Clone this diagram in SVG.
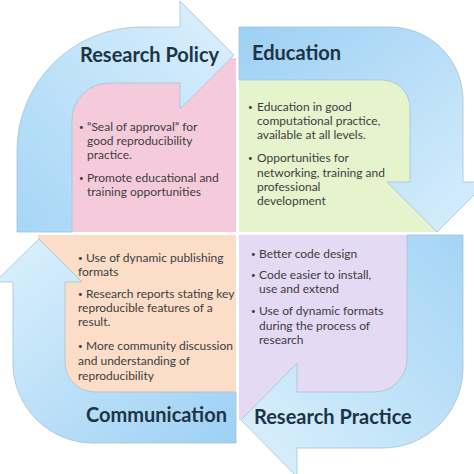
<svg xmlns="http://www.w3.org/2000/svg" width="474" height="474" viewBox="0 0 474 474">
<defs>
<style>
.arrow{stroke:#a3c3d8;stroke-width:0.8;stroke-linejoin:miter}
.head{font-family:Lato,"Liberation Sans",sans-serif;font-weight:bold;font-size:20px;fill:#1e3446}
.body{font-family:Lato,"Liberation Sans",sans-serif;font-size:12px;fill:#3d3d3d}
.b{font-size:8px}
</style>
<linearGradient id="gRP" x1="0" y1="1" x2="1" y2="0"><stop offset="0" stop-color="#a6d6f6"/><stop offset="1" stop-color="#dcf0fc"/></linearGradient>
<linearGradient id="gED" x1="0" y1="0" x2="1" y2="1"><stop offset="0" stop-color="#9dd0f4"/><stop offset="1" stop-color="#d9effc"/></linearGradient>
<linearGradient id="gPR" x1="1" y1="0" x2="0" y2="1"><stop offset="0" stop-color="#a4d5f5"/><stop offset="1" stop-color="#ddf1fc"/></linearGradient>
<linearGradient id="gCO" x1="1" y1="1" x2="0" y2="0"><stop offset="0" stop-color="#9dd0f4"/><stop offset="1" stop-color="#ddf1fc"/></linearGradient>
</defs>
<rect width="474" height="474" fill="#ffffff"/>

<g id="node-research-policy">
<rect x="72" y="58" width="164" height="174" fill="#f5cbdc"/>
<text class="body"><tspan class="b" x="79" y="130">•</tspan><tspan x="87" y="131">“Seal of approval” for</tspan><tspan x="87" y="145">good reproducibility</tspan><tspan x="87" y="159">practice.</tspan><tspan class="b" x="79" y="181">•</tspan><tspan x="87" y="182">Promote educational and</tspan><tspan x="87" y="196">training opportunities</tspan></text>
</g>

<g id="node-education">
<rect x="239" y="78" width="198" height="154" fill="#e6f4ce"/>
<text class="body"><tspan class="b" x="248" y="110">•</tspan><tspan x="257" y="111">Education in good</tspan><tspan x="257" y="125">computational practice,</tspan><tspan x="257" y="139">available at all levels.</tspan><tspan class="b" x="248" y="161">•</tspan><tspan x="257" y="162">Opportunities for</tspan><tspan x="257" y="176.5">networking, training and</tspan><tspan x="257" y="191">professional</tspan><tspan x="257" y="205">development</tspan></text>
</g>

<g id="node-communication">
<rect x="38" y="235" width="198" height="157" fill="#fbddc8"/>
<text class="body"><tspan class="b" x="78" y="260.5">•</tspan><tspan x="86" y="261.5">Use of dynamic publishing</tspan><tspan x="78" y="275.5">formats</tspan><tspan class="b" x="78" y="297">•</tspan><tspan x="86" y="298">Research reports stating key</tspan><tspan x="78" y="312">reproducible  features of a</tspan><tspan x="78" y="326">result.</tspan><tspan class="b" x="78" y="349">•</tspan><tspan x="86" y="350">More community discussion</tspan><tspan x="78" y="365">and understanding of</tspan><tspan x="78" y="380">reproducibility</tspan></text>
</g>

<g id="node-research-practice">
<rect x="239" y="235" width="168" height="185" fill="#e4daf4"/>
<text class="body"><tspan class="b" x="251" y="257">•</tspan><tspan x="259" y="258">Better code design</tspan><tspan class="b" x="251" y="278">•</tspan><tspan x="259" y="279">Code easier to install,</tspan><tspan x="259" y="293">use and extend</tspan><tspan class="b" x="251" y="314">•</tspan><tspan x="259" y="315">Use of dynamic formats</tspan><tspan x="259" y="330">during the process of</tspan><tspan x="259" y="344">research</tspan></text>
</g>

<g id="connectors">
<g id="arrow-research-policy">
<path class="arrow" fill="url(#gRP)" d="M17,232 L17,151 A124,124 0 0 1 141,27 L180,27 L180,1 L234,55 L180,109 L180,83 L109,83 A37,37 0 0 0 72,120 L72,232 Z"/>
<text class="head" x="80" y="62">Research Policy</text>
</g>
<g id="arrow-education">
<path class="arrow" fill="url(#gED)" d="M239,27 L390,27 A73,73 0 0 1 463,100 L463,182 L487,182 L437,232 L387,182 L410,182 L410,108 A28,28 0 0 0 382,80 L239,80 Z"/>
<text class="head" x="252" y="60">Education</text>
</g>
<g id="arrow-research-practice">
<path class="arrow" fill="url(#gPR)" d="M407,235 L463,235 L463,368 A80,80 0 0 1 383,448 L297,448 L297,477 L241,420 L297,363 L297,392 L374,392 A33,33 0 0 0 407,359 Z"/>
<text class="head" x="254" y="424">Research Practice</text>
</g>
<g id="arrow-communication">
<path class="arrow" fill="url(#gCO)" d="M236,392 L236,443 L93,443 A80,80 0 0 1 13,363 L13,282 L-5,282 L39,239 L82,282 L65,282 L65,362 A30,30 0 0 0 95,392 Z"/>
<text class="head" x="86" y="422">Communication</text>
</g>
</g>
</svg>
